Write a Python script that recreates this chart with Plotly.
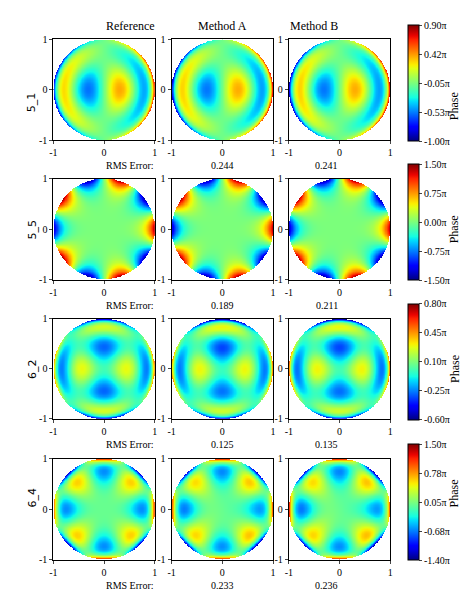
import numpy as np
from math import factorial
import plotly.graph_objects as go

W, H = 474, 594
col_titles = ["Reference", "Method A", "Method B"]
row_labels = ["5_1", "5_5", "6_2", "6_4"]
rms_labels = [["RMS Error:", "0.244", "0.241"],
              ["RMS Error:", "0.189", "0.211"],
              ["RMS Error:", "0.125", "0.135"],
              ["RMS Error:", "0.233", "0.236"]]
zranges = [(-1.00, 0.90), (-1.50, 1.50), (-0.60, 0.80), (-1.40, 1.50)]
cbar_ticklabels = [["-1.00π", "-0.53π", "-0.05π", "0.42π", "0.90π"],
                   ["-1.50π", "-0.75π", "0.00π", "0.75π", "1.50π"],
                   ["-0.60π", "-0.25π", "0.10π", "0.45π", "0.80π"],
                   ["-1.40π", "-0.68π", "0.05π", "0.78π", "1.50π"]]
# Zernike terms per panel: (n, m, coefficient) ; offset per row
terms = [
    [[(5, 1, 0.78)], [(5, 1, 0.8), (3, 1, 0.04)], [(5, 1, 0.81), (3, 1, 0.05)]],
    [[(5, 5, 1.4)], [(5, 5, 1.36)], [(5, 5, 1.38)]],
    [[(6, 2, 0.55)], [(6, 2, 0.57), (4, 0, -0.02), (5, -1, -0.07)], [(6, 2, 0.58), (5, -1, -0.06)]],
    [[(6, 4, 1.2)], [(6, 4, 1.2), (5, 1, -0.1), (3, -1, 0.04)], [(6, 4, 1.22), (5, 1, -0.12), (3, -1, 0.05)]],
]
offsets = [-0.08, 0.0, 0.0, -0.02]

def radial(n, m, r):
    m = abs(m)
    R = np.zeros_like(r)
    for k in range((n - m) // 2 + 1):
        c = (-1) ** k * factorial(n - k) / (factorial(k) * factorial((n + m) // 2 - k) * factorial((n - m) // 2 - k))
        R += c * r ** (n - 2 * k)
    return R

N = 181
g = np.linspace(-1, 1, N)
X, Y = np.meshgrid(g, g)
Rr = np.hypot(X, Y)
T = np.arctan2(Y, X)

def field(tl, off):
    Z = np.full_like(X, off)
    for n, m, c in tl:
        ang = np.cos(m * T) if m >= 0 else np.sin(-m * T)
        Z += c * radial(n, m, Rr) * ang
    Z[Rr > 1] = np.nan
    return Z

# matplotlib jet
stops = np.linspace(0, 1, 33)
def seg(pts, x):
    xs, ys = zip(*pts)
    return np.interp(x, xs, ys)
rc = seg([(0, 0), (0.35, 0), (0.66, 1), (0.89, 1), (1, 0.5)], stops)
gc = seg([(0, 0), (0.125, 0), (0.375, 1), (0.64, 1), (0.91, 0), (1, 0)], stops)
bc = seg([(0, 0.5), (0.11, 1), (0.34, 1), (0.65, 0), (1, 0)], stops)
jet = [[float(s), f"rgb({int(r*255)},{int(gg*255)},{int(b*255)})"] for s, r, gg, b in zip(stops, rc, gc, bc)]

col_px = [(42, 145), (162, 265), (281, 384)]
row_px = [(26, 129), (168, 271), (311, 413), (454, 557)]
font = "Liberation Serif"

fig = go.Figure()
layout = dict(width=W, height=H, margin=dict(l=0, r=0, t=0, b=0),
              paper_bgcolor="white", plot_bgcolor="white", showlegend=False,
              font=dict(family=font, size=10, color="black"))
ann = []
k = 0
for i in range(4):
    zmin, zmax = zranges[i]
    ca = f"coloraxis{i+1}" if i else "coloraxis"
    cy = 1 - ((row_px[i][0] + row_px[i][1]) / 2) / H
    layout[ca] = dict(colorscale=jet, cmin=zmin, cmax=zmax,
                      colorbar=dict(x=402 / W, xanchor="left", y=cy + 7 / H, yanchor="middle",
                                    len=118 / H, lenmode="fraction", thickness=11, outlinewidth=1,
                                    outlinecolor="black", xpad=0, ypad=0,
                                    tickvals=list(np.linspace(zmin, zmax, 5)), ticktext=cbar_ticklabels[i],
                                    ticks="outside", ticklen=3, tickfont=dict(size=10, family=font)))
    ann.append(dict(x=458 / W, y=cy, xref="paper", yref="paper", text="Phase", showarrow=False,
                    textangle=-90, font=dict(size=12, family=font)))
    for j in range(3):
        k += 1
        xa = f"xaxis{k}" if k > 1 else "xaxis"
        ya = f"yaxis{k}" if k > 1 else "yaxis"
        fig.add_trace(go.Heatmap(x=g, y=g, z=field(terms[i][j], offsets[i]), coloraxis=ca,
                                 xaxis=f"x{k}" if k > 1 else "x", yaxis=f"y{k}" if k > 1 else "y",
                                 hoverinfo="skip"))
        x0, x1 = col_px[j]; y0, y1 = row_px[i]
        ax = dict(range=[-1, 1], tickvals=[-1, 0, 1], ticktext=["-1", "0", "1"], ticks="outside",
                  ticklen=3, showline=True, mirror=True, linecolor="black", linewidth=1,
                  showgrid=False, zeroline=False, tickfont=dict(size=10, family=font))
        layout[xa] = dict(ax, domain=[x0 / W, x1 / W], anchor=f"y{k}" if k > 1 else "y")
        layout[ya] = dict(ax, domain=[1 - y1 / H, 1 - y0 / H], anchor=f"x{k}" if k > 1 else "x")
        ann.append(dict(x=(x0 + x1) / 2 / W, y=1 - (y1 + 26) / H, xref="paper", yref="paper",
                        text=rms_labels[i][j], showarrow=False, yanchor="middle",
                        font=dict(size=10, family=font)))
        if i == 0:
            ann.append(dict(x=(x0 + x1) / 2 / W, y=1 - 12 / H, xref="paper", yref="paper",
                            text=col_titles[j], showarrow=False, yanchor="middle",
                            font=dict(size=12, family=font)))
    ann.append(dict(x=12 / W, y=1 - (row_px[i][0] + row_px[i][1]) / 2 / H, xref="paper", yref="paper",
                    text=row_labels[i], showarrow=False, textangle=-90,
                    font=dict(size=11, family="DejaVu Sans")))
layout["annotations"] = ann
fig.update_layout(**layout)
fig.write_html("out.html")
